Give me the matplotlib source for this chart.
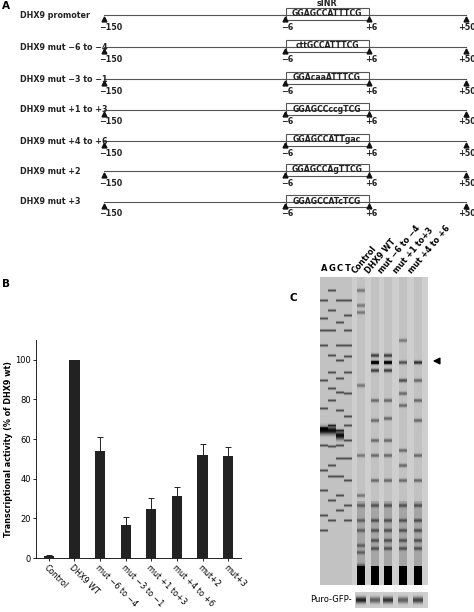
import matplotlib
matplotlib.use("Agg")
import matplotlib.pyplot as plt
import numpy as np
from matplotlib.patches import Rectangle

W, H = 474, 612
constructs = ["DHX9 promoter", "DHX9 mut \u22126 to \u22124", "DHX9 mut \u22123 to \u22121",
              "DHX9 mut +1 to +3", "DHX9 mut +4 to +6", "DHX9 mut +2", "DHX9 mut +3"]
sequences = ["GGAGCCATTTCG", "cttGCCATTTCG", "GGAcaaATTTCG", "GGAGCCccgTCG",
             "GGAGCCATTgac", "GGAGCCAgTTCG", "GGAGCCATcTCG"]
positions = ["\u2212150", "\u22126", "+6", "+50"]

categories = ["Control", "DHX9 WT", "mut \u22126 to \u22124", "mut \u22123 to \u22121",
              "mut +1 to+3", "mut +4 to +6", "mut+2", "mut+3"]
values = [1, 100, 54, 16.5, 24.5, 31.5, 52, 51.5]
errors = [0.5, 0, 7, 4, 6, 4.5, 5.5, 4.5]
yticks = [0, 20, 40, 60, 80, 100]

gel_lanes = ["A", "G", "C", "T", "Control", "DHX9 WT", "mut \u22126 to \u22124", "mut +1 to+3", "mut +4 to +6"]

fig = plt.figure(figsize=(W/100, H/100), dpi=100)
plt.rcParams['font.family'] = ['DejaVu Sans']

# ---------- Panel A (pixel coords) ----------
axA = fig.add_axes([0, 0, 1, 1])
axA.set_xlim(0, W); axA.set_ylim(H, 0); axA.axis('off')
axA.text(2, 6, "A", fontsize=7.5, fontweight='bold', va='center')
xpos = [104, 285, 369, 466]
rows = [15, 47, 79, 110, 141, 171, 202]
for i, (lab, seq) in enumerate(zip(constructs, sequences)):
    y = rows[i]
    axA.text(20, y, lab, fontsize=5.8, fontweight='bold', va='center', color='#222')
    axA.plot([xpos[0], xpos[3]], [y, y], color='#555', lw=0.8)
    axA.add_patch(Rectangle((286, y-7), 83, 12, fc='white', ec='#555', lw=0.8))
    axA.text(327, y-1, seq, fontsize=5.6, fontweight='bold', ha='center', va='center', color='#222')
    for xp, p in zip(xpos, positions):
        axA.plot([xp], [y+4], marker='^', color='#111', ms=3.5)
        xt = {0: xp+7, 1: xp+2, 2: xp+2, 3: xp+1}[positions.index(p)]
        axA.text(xt, y+12, p, fontsize=5.8, fontweight='bold', ha='center', va='center', color='#222')
axA.text(327, 4, "sINR", fontsize=5.8, fontweight='bold', ha='center', va='center', color='#222')

# ---------- Panel B ----------
axA.text(2, 284, "B", fontsize=7.5, fontweight='bold', va='center')
axB = fig.add_axes([36/W, 1-558/H, 205/W, 218/H])
x = np.arange(len(values))
axB.bar(x, values, width=0.4, color='#222', yerr=errors, capsize=2,
        error_kw=dict(elinewidth=0.7, capthick=0.7, ecolor='#222'))
axB.set_ylim(0, 110); axB.set_xlim(-0.5, len(values)-0.5)
axB.set_yticks(yticks)
axB.set_yticklabels([str(t) for t in yticks], fontsize=6)
axB.set_xticks(x)
axB.set_xticklabels(categories, rotation=-45, ha='left', rotation_mode='anchor', fontsize=5.8)
axB.set_ylabel("Transcriptional activity (% of DHX9 wt)", fontsize=5.8, fontweight='bold', labelpad=2)
for s in ['top', 'right']:
    axB.spines[s].set_visible(False)
for s in ['left', 'bottom']:
    axB.spines[s].set_linewidth(0.6)
axB.tick_params(length=2, width=0.6, pad=1.5)

# ---------- Panel C (gel) ----------
axA.text(290, 298, "C", fontsize=7.5, fontweight='bold', va='center')
gx0, gx1, gy0, gy1 = 320, 428, 277, 585
lane_x = [324, 332, 340, 348, 361, 375, 388, 403, 418]
seq_bands = {0: [300, 318, 330, 345, 380, 408, 428, 445, 470, 490, 515, 530],
             1: [290, 310, 330, 355, 372, 388, 400, 425, 446, 465, 476, 500, 520],
             2: [300, 322, 345, 360, 378, 392, 410, 430, 445, 458, 476, 495, 510],
             3: [300, 315, 330, 345, 356, 372, 393, 416, 425, 440, 458, 480, 505, 520]}
sample_bands = [[290, 305, 312, 385, 455, 495, 505, 520, 530, 545, 552, 565],
                [355, 362, 370, 400, 420, 440, 455, 480, 505, 520, 530, 540, 548],
                [355, 362, 370, 400, 418, 440, 455, 480, 505, 520, 530, 540, 548],
                [340, 362, 380, 393, 405, 450, 465, 480, 505, 520, 530, 540, 548],
                [362, 380, 400, 420, 455, 480, 505, 520, 530, 540, 548]]
sample_int = [[0.25]*12, [0.45, 0.8, 0.45] + [0.3]*10, [0.45, 0.75, 0.45] + [0.3]*10,
              [0.25, 0.4, 0.4] + [0.3]*10, [0.5] + [0.3]*10]
ny, nx = gy1-gy0, gx1-gx0
img = np.full((ny, nx), 0.3)
yy = np.arange(gy0, gy1)
for li, lx in enumerate(lane_x):
    cols = slice(max(lx-4-gx0, 0), min(lx+4-gx0, nx))
    img[:, cols] += 0.05
    if li < 4:
        for b in seq_bands[li]:
            img[:, cols] += (0.4*np.exp(-((yy-b)/1.2)**2))[:, None]
        big = {0: 430, 1: 430, 2: 435}.get(li)
        if big: img[:, cols] += (0.6*np.exp(-((yy-big)/4)**2))[:, None]
    else:
        bands = sample_bands[li-4]; ints = sample_int[li-4]
        for b, a in zip(bands, ints):
            img[:, cols] += (a*np.exp(-((yy-b)/1.8)**2))[:, None]
        img[:, cols] += (0.1*(yy > 500) + 0.9*(yy > 565))[:, None]
img = np.clip(img, 0, 1)
axG = fig.add_axes([gx0/W, 1-gy1/H, nx/W, ny/H])
axG.imshow(img, cmap='Greys', vmin=0, vmax=1, aspect='auto', interpolation='bilinear')
axG.axis('off')
for lx, lab in zip(lane_x, gel_lanes):
    if len(lab) == 1:
        axA.text(lx, 273, lab, fontsize=6, fontweight='bold', ha='center', va='bottom')
    else:
        axA.text(lx-4, 275, lab, fontsize=5.8, fontweight='bold', rotation=50, ha='left', va='bottom', rotation_mode='anchor')
axA.annotate("", xy=(430, 361), xytext=(442, 361), arrowprops=dict(arrowstyle='-|>', color='k', lw=1))
sx0, sx1, sy0, sy1 = 355, 428, 592, 608
strip = np.full((sy1-sy0, sx1-sx0), 0.3)
ys = np.arange(sy0, sy1)
strip_int = [0.6, 0.4, 0.55, 0.4, 0.5]
for lx, a in zip(lane_x[4:], strip_int):
    c = slice(lx-5-sx0, lx+5-sx0)
    strip[:, c] += (a*np.exp(-((ys-600)/3)**2))[:, None]
axS = fig.add_axes([sx0/W, 1-sy1/H, (sx1-sx0)/W, (sy1-sy0)/H])
axS.imshow(np.clip(strip, 0, 1), cmap='Greys', vmin=0, vmax=1, aspect='auto', interpolation='bilinear')
axS.axis('off')
axA.text(352, 600, "Puro-GFP-", fontsize=6, ha='right', va='center')

fig.savefig("out.png", dpi=100)
